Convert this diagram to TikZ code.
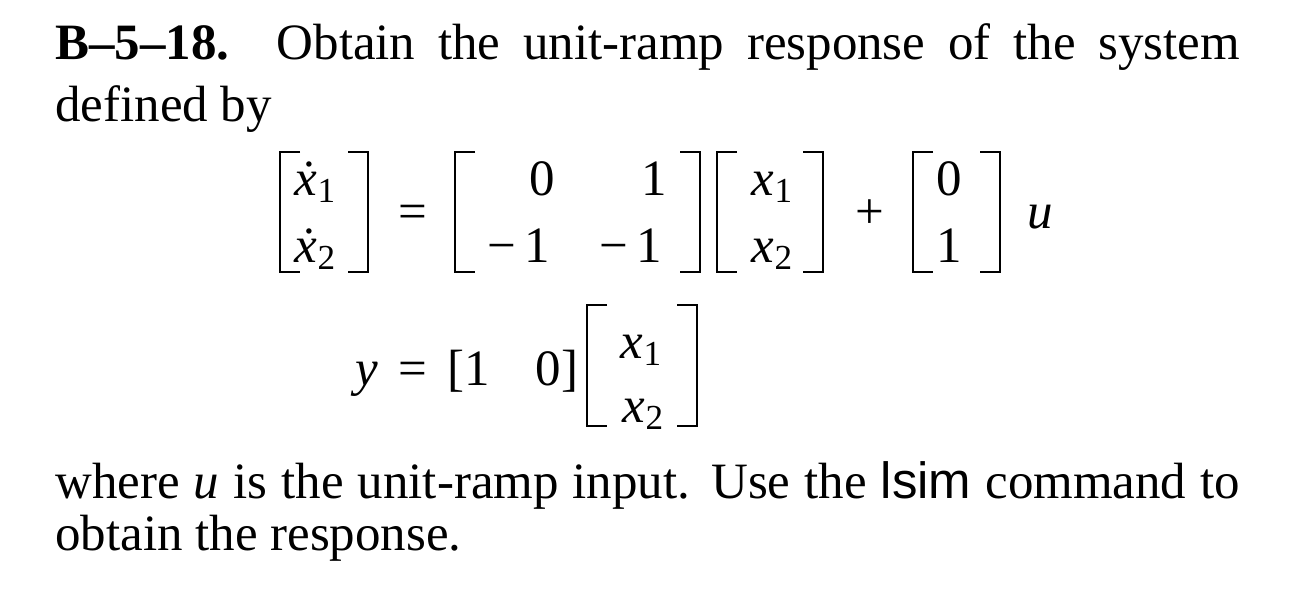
\documentclass[tikz,border=0pt]{standalone}
\usepackage{fontspec}
\setmainfont{Liberation Serif}
\setsansfont{Liberation Sans}
\newcommand{\sbs}[1]{\raisebox{-0.3ex}{\fontsize{20}{20}\selectfont #1}}
\begin{document}
\begin{tikzpicture}[x=0.02cm,y=-0.02cm,
  txt/.style={anchor=base west,inner sep=0pt,font=\fontsize{29}{33}\selectfont},
  ent/.style={anchor=base,inner sep=0pt,font=\fontsize{29}{33}\selectfont},
  brk/.style={line width=1.2pt}]
\useasboundingbox (0,0) rectangle (1290,588);
\node[txt] (l1) at (55,60) {\makebox[23.7cm][s]{\textbf{B–5–18.} Obtain the unit-ramp response of the system}};
\node[txt] (l2) at (55,121) {defined by};
\newcommand{\LB}[3]{\draw[brk] (#1+20,#2) -- (#1,#2) -- (#1,#3) -- (#1+20,#3);}
\newcommand{\RB}[3]{\draw[brk] (#1-20,#2) -- (#1,#2) -- (#1,#3) -- (#1-20,#3);}
% matrix 1
\LB{280}{152}{272}\RB{368}{152}{272}
\node[ent] (a1) at (315,195) {\textit{\.{x}}\sbs{1}};
\node[ent] (a2) at (315,262) {\textit{\.{x}}\sbs{2}};
\node[ent] (eq1) at (413,228) {=};
% matrix 2
\LB{455}{152}{272}\RB{700}{152}{272}
\node[ent] (b11) at (542,195) {0};
\node[ent] (b12) at (654,195) {1};
\node[ent] (b21) at (519,262) {−\,1};
\node[ent] (b22) at (631,262) {−\,1};
% matrix 3
\LB{717}{152}{272}\RB{823}{152}{272}
\node[ent] (c1) at (772,195) {\textit{x}\sbs{1}};
\node[ent] (c2) at (772,262) {\textit{x}\sbs{2}};
\node[ent] (plus) at (870,228) {+};
% matrix 4
\LB{913}{152}{272}\RB{1000}{152}{272}
\node[ent] (d1) at (949,195) {0};
\node[ent] (d2) at (949,262) {1};
\node[ent] (u) at (1040,228) {\textit{u}};
% output row
\node[ent] (yv) at (367,385) {\textit{y}};
\node[ent] (eq2) at (413,385) {=};
\node[ent] (row) at (513,385) {[1\hspace{0.9em}0]};
\LB{587}{305}{426}\RB{697}{305}{426}
\node[ent] (e1) at (641,358) {\textit{x}\sbs{1}};
\node[ent] (e2) at (643,422) {\textit{x}\sbs{2}};
\node[txt] (l3) at (55,498) {\makebox[23.7cm][s]{where \textit{u} is the unit-ramp input. Use the {\sffamily lsim} command to}};
\node[txt] (l4) at (55,550) {obtain the response.};
\end{tikzpicture}
\end{document}
